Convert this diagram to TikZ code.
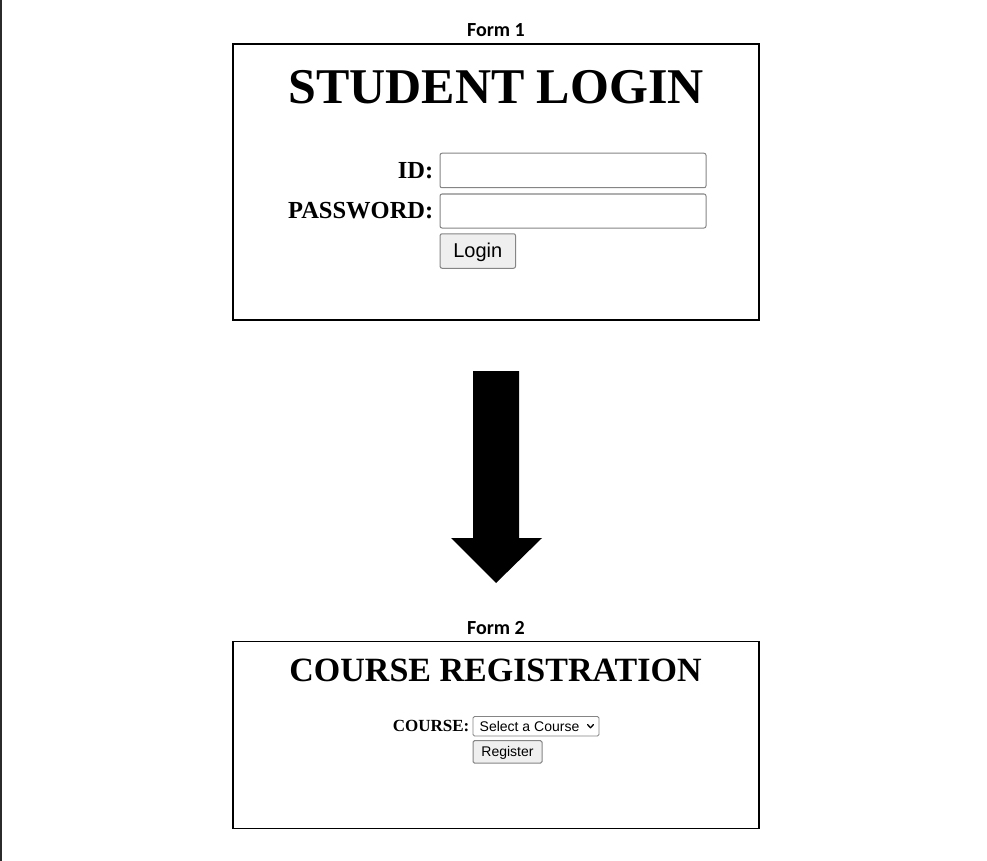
\documentclass[tikz,border=0pt]{standalone}
\usepackage{fontspec}
\setmainfont{Liberation Serif}
\newfontfamily\capfont{Carlito}
\newfontfamily\uifont{Liberation Sans}
\definecolor{fieldborder}{HTML}{858585}
\definecolor{btnfill}{HTML}{EFEFEF}
\definecolor{edgeline}{HTML}{2B2B2B}
\begin{document}
\begin{tikzpicture}[x=1pt,y=-1pt,
  formbox/.style={draw=black,line width=1.1pt,minimum width=526pt,inner sep=0pt},
  formcap/.style={font=\capfont\bfseries\fontsize{20}{22}\selectfont,anchor=base,inner sep=0pt},
  fieldbox/.style={draw=fieldborder,line width=1pt,rounded corners=2pt,fill=white,inner sep=0pt},
  btn/.style={draw=fieldborder,line width=1pt,rounded corners=2pt,fill=btnfill,inner sep=0pt},
  lbl/.style={anchor=base east,inner sep=0pt,font=\bfseries}
]
\useasboundingbox (0,0) rectangle (987,861);
\fill[white] (0,0) rectangle (987,861);
\fill[edgeline] (0,0) rectangle (1.5,861);

% ---------- Form 1 ----------
\node[formcap] (cap1) at (496,37) {Form 1};
\node[formbox,minimum height=276pt] (form1) at (496,182) {};
\node[anchor=base,inner sep=0pt,font=\bfseries\fontsize{50}{56}\selectfont] (title1) at (496,103.5) {STUDENT LOGIN};
\node[lbl,font=\bfseries\fontsize{24.5}{28}\selectfont] (idlbl) at (433.5,178.5) {ID:};
\node[lbl,font=\bfseries\fontsize{24.5}{28}\selectfont] (pwlbl) at (433.5,218) {PASSWORD:};
\node[fieldbox,minimum width=266pt,minimum height=34.5pt] (idbox) at (573,170.5) {};
\node[fieldbox,minimum width=266pt,minimum height=34pt] (pwbox) at (573,211) {};
\node[btn,minimum width=75.5pt,minimum height=34.5pt] (loginbtn) at (477.8,251) {};
\node[anchor=base,inner sep=0pt,font=\uifont\fontsize{20}{24}\selectfont] (logintxt) at (loginbtn.center |- 0,257.5) {Login};

% ---------- Arrow ----------
\coordinate (arrtop) at (496,371);
\coordinate (arrtip) at (496,583);
\fill[black] (473,371) -- (519,371) -- (519,538) -- (542,538) -- (arrtip) -- (451,538) -- (473,538) -- cycle;

% ---------- Form 2 ----------
\node[formcap] (cap2) at (496,634.5) {Form 2};
\node[formbox,minimum height=187pt] (form2) at (496,735) {};
\node[anchor=base,inner sep=0pt,font=\bfseries\fontsize{34}{40}\selectfont] (title2) at (495.5,681.5) {COURSE REGISTRATION};
\node[lbl,font=\bfseries\fontsize{17}{20}\selectfont] (courselbl) at (469.5,731.5) {COURSE:};
\node[draw=fieldborder,line width=0.9pt,rounded corners=1.5pt,fill=white,inner sep=0pt,minimum width=126pt,minimum height=19.5pt] (selbox) at (536,726.2) {};
\node[anchor=base west,inner sep=0pt,font=\uifont\fontsize{14}{16}\selectfont] (seltxt) at (479.5,731) {Select a Course};
\draw[line width=1.3pt,line cap=round,line join=round] (587.5,724.5) -- (590.5,727.8) -- (593.5,724.5);
\node[btn,minimum width=69pt,minimum height=22.5pt,rounded corners=1.5pt] (regbtn) at (507.5,751.8) {};
\node[anchor=base,inner sep=0pt,font=\uifont\fontsize{14}{16}\selectfont] (regtxt) at (regbtn.center |- 0,756.5) {Register};
\end{tikzpicture}
\end{document}
